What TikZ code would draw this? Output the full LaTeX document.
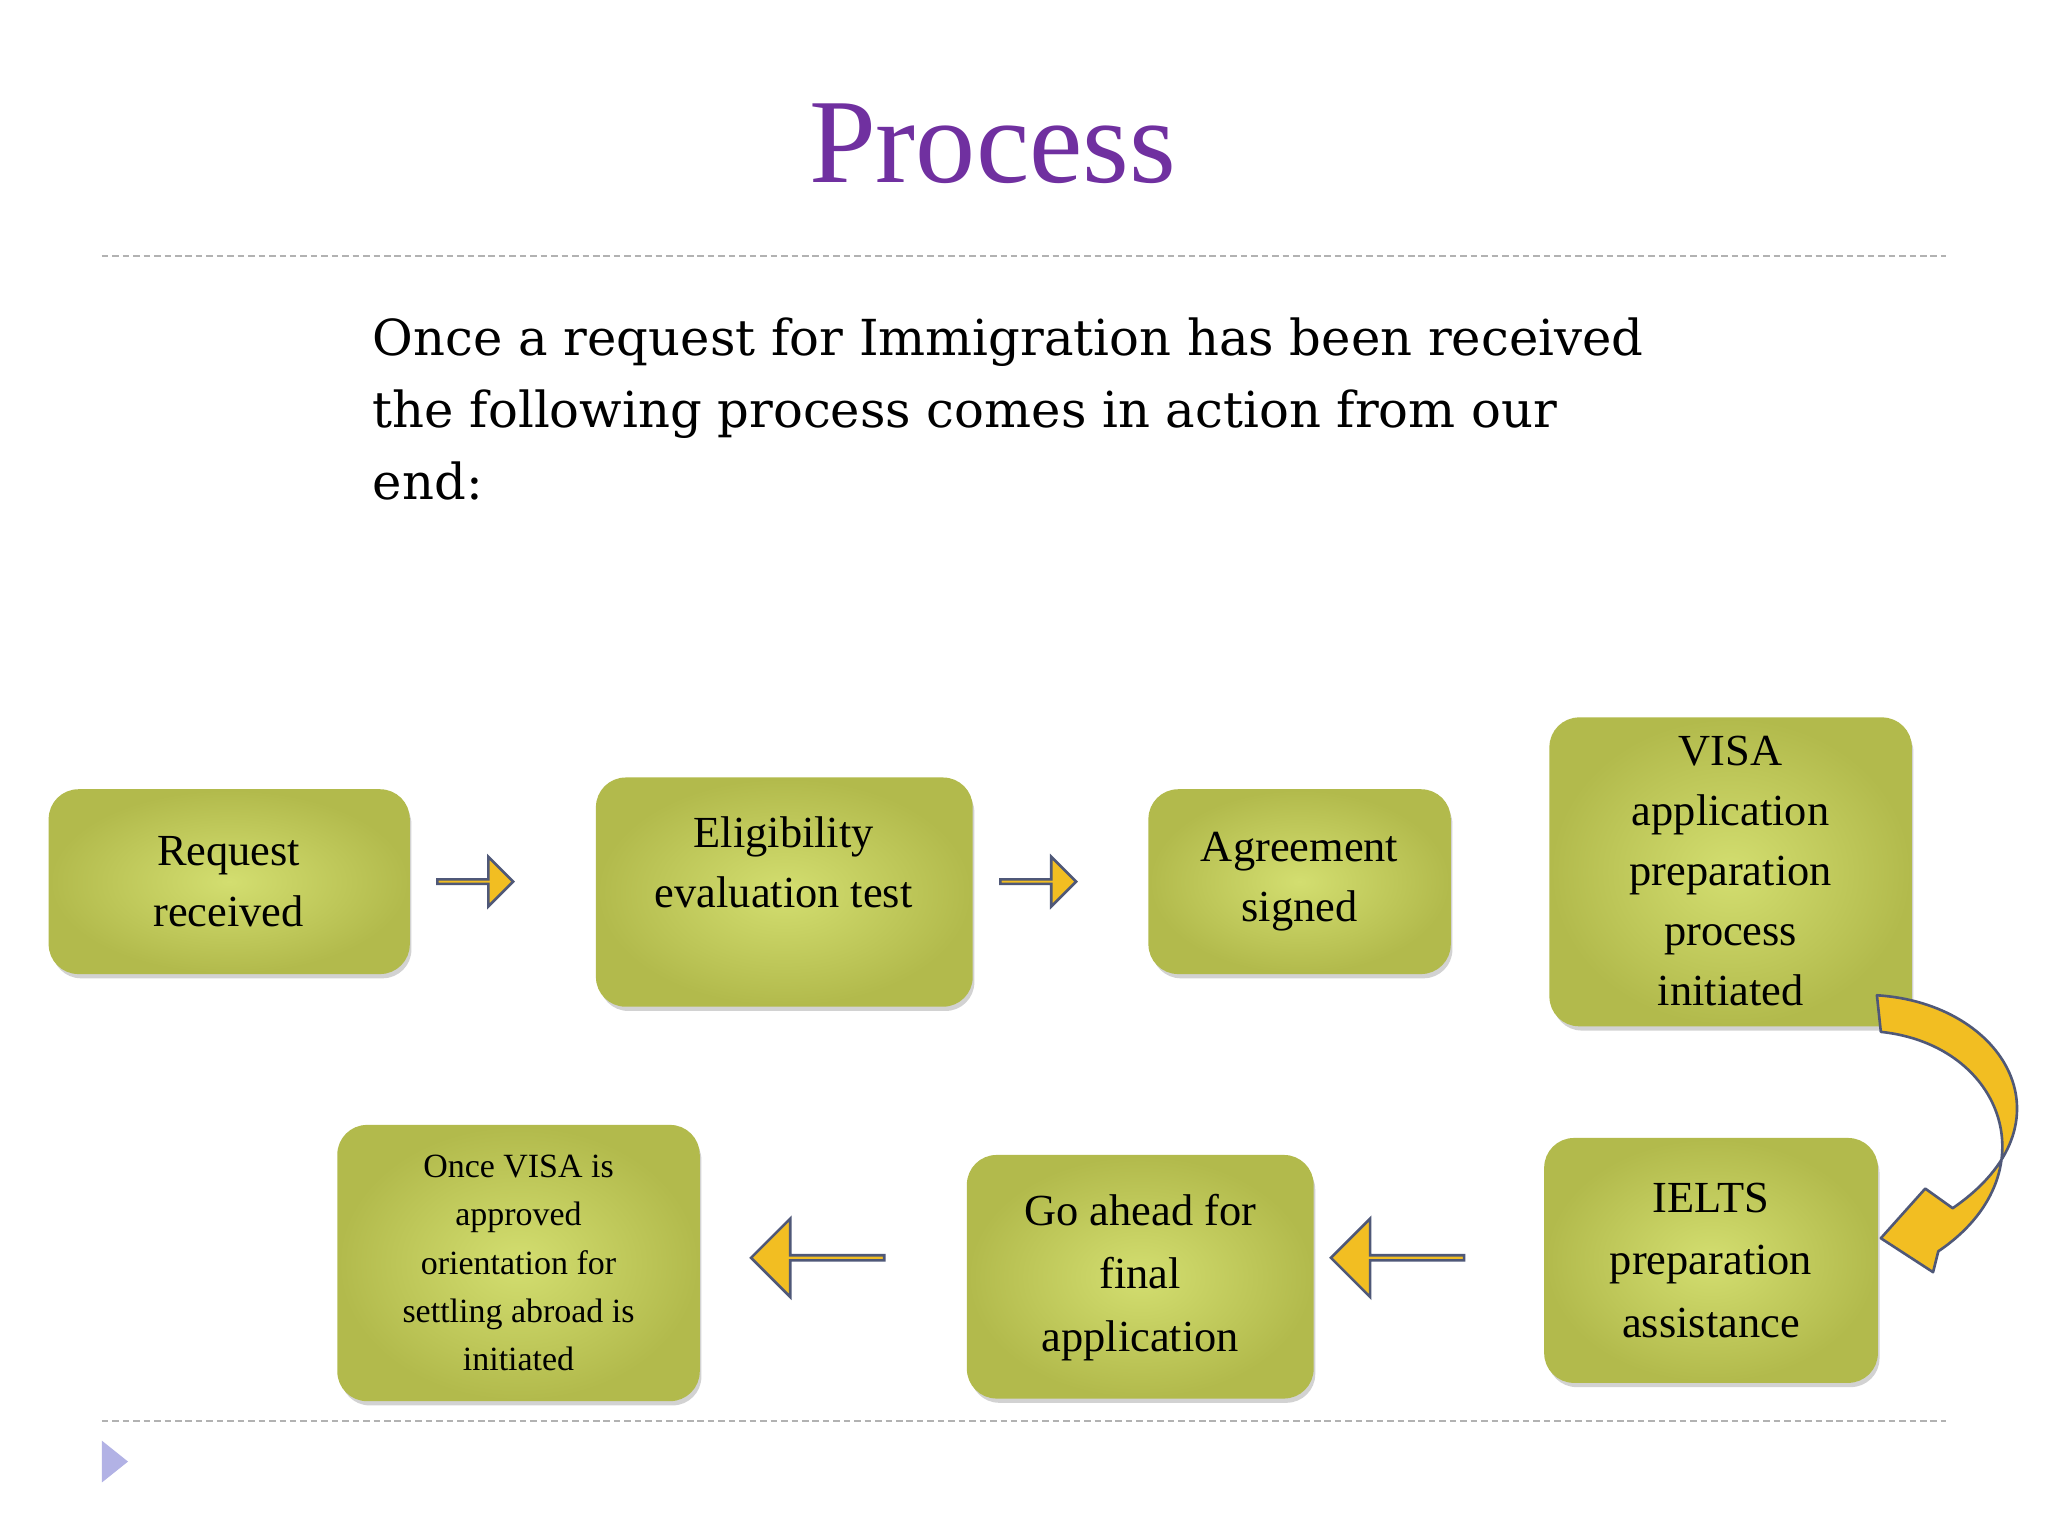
\documentclass[tikz,border=0pt]{standalone}
\usepackage{fontspec}
\setmainfont{Liberation Serif}
\newfontfamily\bodyf{DejaVu Serif}
\usetikzlibrary{shapes.arrows,shadows}
\definecolor{ttl}{HTML}{7030A0}
\definecolor{bx}{HTML}{D3DE70}
\definecolor{bxd}{HTML}{B2BA4C}
\definecolor{arr}{HTML}{F2BE22}
\definecolor{arrl}{HTML}{4F5878}
\begin{document}
\begin{tikzpicture}[x=1pt,y=-1pt,
 box/.style={rounded corners=22pt,draw=bxd,line width=1.5pt,inner color=bx,outer color=bxd,
   drop shadow={opacity=0.35,shadow xshift=2pt,shadow yshift=-4pt},align=center,text=black},
 bt/.style={font=\fontsize{34}{46}\selectfont},
 sarr/.style={single arrow,draw=arrl,fill=arr,line width=2pt,single arrow head extend=10pt,minimum height=58pt,minimum width=38pt,inner sep=0pt},
 larr/.style={single arrow,draw=arrl,fill=arr,line width=2pt,single arrow head extend=14pt,minimum height=102pt,minimum width=60pt,inner sep=0pt,shape border rotate=180}]
\useasboundingbox (0,0) rectangle (1568,1176);
\fill[white] (0,0) rectangle (1568,1176);
\node[text=ttl,font=\fontsize{92}{96}\selectfont] (t) at (760,110) {Process};
\draw[gray!60,dash pattern=on 5pt off 3pt,line width=1pt] (78,196) -- (1490,196);
\draw[gray!60,dash pattern=on 5pt off 3pt,line width=1pt] (78,1088) -- (1490,1088);
\fill[gray!50!blue!40] (78,1103) -- (98,1119) -- (78,1135) -- cycle;
\node[anchor=north west,align=left,font=\bodyf\fontsize{38}{55}\selectfont] (body) at (282,240)
 {Once a request for Immigration has been received\\the following process comes in action from our\\end:};
\path[box] (38,605) rectangle (313,745); \node[bt,align=center] (n1) at (175,675) {Request\\received};
\path[box] (457,596) rectangle (744,770); \node[bt,align=center] (n2) at (600,660) {Eligibility\\evaluation test};
\path[box] (880,605) rectangle (1110,745); \node[bt,align=center] (n3) at (995,675) {Agreement\\signed};
\path[box] (1187,550) rectangle (1463,785); \node[bt,align=center] (n4) at (1325,667) {VISA\\application\\preparation\\process\\initiated};
\path[box] (1183,872) rectangle (1437,1058); \node[bt,align=center,font=\fontsize{34}{48}\selectfont] (n5) at (1310,965) {IELTS\\preparation\\assistance};
\path[box] (741,885) rectangle (1005,1070); \node[bt,align=center,font=\fontsize{34}{48}\selectfont] (n6) at (873,978) {Go ahead for\\final\\application};
\path[box] (259,862) rectangle (535,1072); \node[align=center,font=\fontsize{26}{37}\selectfont] (n7) at (397,967) {Once VISA is\\approved\\orientation for\\settling abroad is\\initiated};
\node[sarr] (a1) at (363,675) {};
\node[sarr] (a2) at (794,675) {};
\node[larr] (a3) at (1071,963) {};
\node[larr] (a4) at (627,963) {};
\draw[arrl,fill=arr,line width=2pt,line join=round]
 (1437,762) .. controls (1535,768) and (1590,860) .. (1495,925) -- (1474,910) -- (1440,948) -- (1480,974) -- (1484,958)
 .. controls (1570,900) and (1535,800) .. (1440,790) -- cycle;
\end{tikzpicture}
\end{document}
